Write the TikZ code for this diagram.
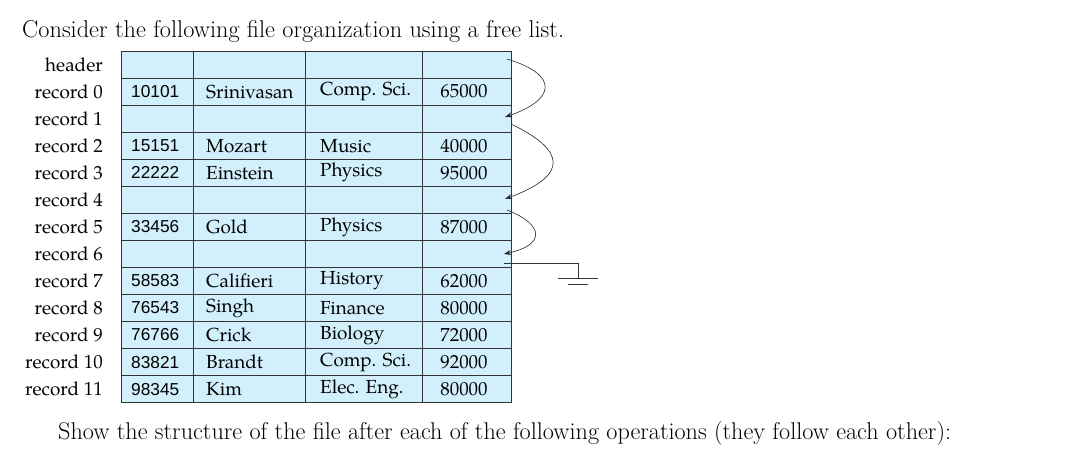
\documentclass[tikz,border=0pt]{standalone}
\usepackage{fontspec}
\usetikzlibrary{arrows.meta}
\newfontfamily\tabfont{TeX Gyre Pagella}
\newfontfamily\numfont{Liberation Sans}
\begin{document}
\begin{tikzpicture}[x=1pt,y=-1pt,
  lbl/.style={anchor=east, inner sep=0pt, font=\fontsize{18.9}{20}\selectfont\tabfont},
  txt/.style={anchor=west, inner sep=0pt, font=\fontsize{18.9}{20}\selectfont\tabfont},
  num/.style={anchor=west, inner sep=0pt, font=\fontsize{17.3}{20}\selectfont\numfont},
  sal/.style={anchor=center, inner sep=0pt, font=\fontsize{18.9}{20}\selectfont\tabfont},
  ptr/.style={-{Stealth[length=7pt,width=5pt]}, line width=0.6pt, black!85}]
\useasboundingbox (0,0) rectangle (1078,457);
\node[anchor=west, inner sep=0pt, font=\fontsize{24.3}{26}\selectfont] (title) at (22,31) {Consider the following file organization using a free list.};
\def\rh{27.05}
\def\top{51}
\fill[cyan!18] (121,\top) rectangle (511,{\top+13*\rh});
\foreach \i in {0,...,13} \draw[black!80, line width=0.5pt] (121,{\top+\i*\rh}) -- (511,{\top+\i*\rh});
\foreach \x in {121,193,305,422,511} \draw[black!80, line width=0.5pt] (\x,\top) -- (\x,{\top+13*\rh});
\node[lbl] (hdr) at (103,{\top+0.5*\rh}) {header};
\foreach \i in {0,...,11} \node[lbl] (r\i) at (103,{\top+(\i+1.5)*\rh}) {record \i};
\foreach \i/\a/\b/\c/\d in {0/10101/Srinivasan/Comp. Sci./65000, 2/15151/Mozart/Music/40000, 3/22222/Einstein/Physics/95000, 5/33456/Gold/Physics/87000, 7/58583/Califieri/History/62000, 8/76543/Singh/Finance/80000, 9/76766/Crick/Biology/72000, 10/83821/Brandt/Comp. Sci./92000, 11/98345/Kim/Elec. Eng./80000}{
  \node[num] (id\i) at (131,{\top+(\i+1.5)*\rh}) {\a};
  \node[txt] (nm\i) at (206,{\top+(\i+1.5)*\rh}) {\b};
  \node[txt] (dp\i) at (320,{\top+(\i+1.5)*\rh}) {\c};
  \node[sal] (sa\i) at (464,{\top+(\i+1.5)*\rh}) {\d};
}
\coordinate (p0) at (507,59);
\coordinate (q0) at (505,117);
\coordinate (p1) at (511,124);
\coordinate (q1) at (505,199);
\coordinate (p2) at (507,210);
\coordinate (q2) at (504,254);
\coordinate (g0) at (504,263);
\coordinate (g1) at (578,263);
\coordinate (g2) at (578,278);
\draw[ptr] (p0) .. controls (560,75) and (555,100) .. (q0);
\draw[ptr] (p1) .. controls (565,150) and (570,175) .. (q1);
\draw[ptr] (p2) .. controls (545,225) and (545,245) .. (q2);
\draw[line width=0.5pt, black!80] (g0) -- (g1) -- (g2);
\draw[line width=0.5pt, black!80] (558,278) -- (598,278) (568,284) -- (588,284);
\node[anchor=west, inner sep=0pt, font=\fontsize{24.2}{26}\selectfont] (foot) at (58,433) {Show the structure of the file after each of the following operations (they follow each other):};
\end{tikzpicture}
\end{document}
